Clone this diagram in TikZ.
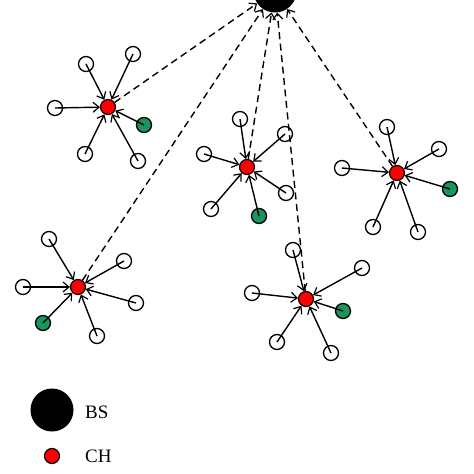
\documentclass[tikz,border=0pt]{standalone}
\usepackage{fontspec}
\setmainfont{Liberation Serif}
\usetikzlibrary{arrows.meta}
\definecolor{gr}{RGB}{25,150,95}
\tikzset{
  mem/.style={circle,draw,line width=1.3pt,minimum size=15pt,inner sep=0pt},
  grn/.style={mem,fill=gr},
  chn/.style={circle,draw,line width=1.2pt,fill=red,minimum size=15pt,inner sep=0pt},
  bsn/.style={circle,fill=black,minimum size=43pt,inner sep=0pt},
  arr/.style={line width=1.4pt,-{Straight Barb[length=6pt,width=10pt,line width=1.2pt]}},
  darr/.style={line width=1.4pt,dash pattern=on 7pt off 4.5pt,-{Straight Barb[length=6pt,width=10pt,line width=1.2pt]}},
  lab/.style={anchor=west,inner sep=0pt,font=\fontsize{19}{20}\selectfont}
}
\begin{document}
\begin{tikzpicture}[x=1pt,y=-1pt]
\useasboundingbox (0,0) rectangle (474,474);
\node[bsn] (bs) at (275,-9) {};
% cluster 1
\node[chn] (c1) at (108,107) {};
\node[mem] (c1a) at (55,108) {};
\node[mem] (c1b) at (86,64) {};
\node[mem] (c1c) at (133,54) {};
\node[grn] (c1d) at (144,125) {};
\node[mem] (c1e) at (85,154) {};
\node[mem] (c1f) at (138,161) {};
% cluster 2
\node[chn] (c2) at (247,167) {};
\node[mem] (c2a) at (240,119) {};
\node[mem] (c2b) at (285,134) {};
\node[mem] (c2c) at (204,154) {};
\node[mem] (c2d) at (286,193) {};
\node[mem] (c2e) at (211,209) {};
\node[grn] (c2f) at (259,216) {};
% cluster 3
\node[chn] (c3) at (397,173) {};
\node[mem] (c3a) at (387,127) {};
\node[mem] (c3b) at (439,149) {};
\node[mem] (c3c) at (342,168) {};
\node[grn] (c3d) at (450,189) {};
\node[mem] (c3e) at (373,227) {};
\node[mem] (c3f) at (418,232) {};
% cluster 4
\node[chn] (c4) at (78,287) {};
\node[mem] (c4a) at (49,239) {};
\node[mem] (c4b) at (124,261) {};
\node[mem] (c4c) at (23,287) {};
\node[mem] (c4d) at (136,303) {};
\node[grn] (c4e) at (43,323) {};
\node[mem] (c4f) at (97,336) {};
% cluster 5
\node[chn] (c5) at (306,299) {};
\node[mem] (c5a) at (293,250) {};
\node[mem] (c5b) at (362,268) {};
\node[mem] (c5c) at (252,293) {};
\node[grn] (c5d) at (343,311) {};
\node[mem] (c5e) at (277,342) {};
\node[mem] (c5f) at (331,353) {};
% member links
\foreach \c in {c1,c2,c3,c4,c5}{
  \foreach \m in {a,b,c,d,e,f}{
    \draw[arr] (\c\m.center) -- (\c);
  }
}
% CH to BS
\draw[darr] (c1) -- (bs);
\draw[darr] (c4) -- (bs);
\draw[darr] (c2) -- (bs);
\draw[darr] (c5) -- (bs);
\draw[darr] (c3) -- (bs);
% legend
\node[bsn] (lbs) at (52,410) {};
\node[chn] (lch) at (52,456) {};
\node[lab] (tbs) at (85,412) {BS};
\node[lab] (tch) at (85,456) {CH};
\end{tikzpicture}
\end{document}
